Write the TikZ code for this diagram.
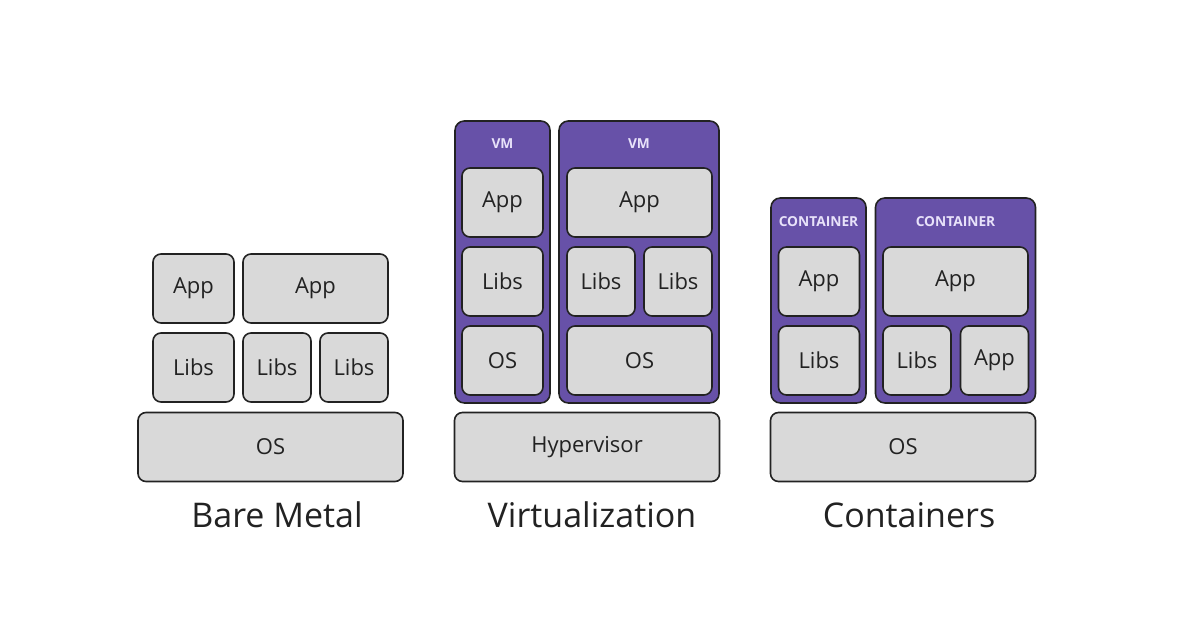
\documentclass[tikz,border=0pt]{standalone}
\usepackage{fontspec}
\setmainfont{Open Sans}
\usetikzlibrary{positioning}
\definecolor{Ink}{HTML}{222222}
\definecolor{Box}{HTML}{D9D9D9}
\definecolor{Purple}{HTML}{6751A8}
\definecolor{Lavender}{HTML}{E8E2FA}
\tikzset{
    layer/.style={rectangle, rounded corners=6pt, draw=Ink, line width=1.2pt, fill=Box, text=Ink, font=\fontsize{16.5}{19}\selectfont, minimum height=51.75pt, inner sep=0pt},
    narrow/.style={layer, minimum width=51pt},
    single/.style={layer, minimum width=60.75pt},
    wide/.style={layer, minimum width=108.75pt},
    base/.style={layer, minimum width=198.75pt},
    shell/.style={rectangle, rounded corners=7pt, draw=Ink, line width=1.2pt, fill=Purple, inner sep=0pt},
    tag/.style={text=Lavender, font=\bfseries\fontsize{10.3}{12}\selectfont},
    caption/.style={text=Ink, font=\fontsize{25.5}{30}\selectfont},
}
\begin{document}
\begin{tikzpicture}[x=0.75pt, y=-0.75pt]
        % --- Canvas ---
        \useasboundingbox (0,0) rectangle (1200,630);

        % --- Bare Metal ---
        \node[single] (bmapp)   at (193.5, 288.5) {App};
        \node[wide]   (bmappw)  at (315.5, 288.5) {App};
        \node[single] (bmlibs)  at (193.5, 367.5) {Libs};
        \node[narrow] (bmlibsb) at (277, 367.5)   {Libs};
        \node[narrow] (bmlibsc) at (354, 367.5)   {Libs};
        \node[base]   (bmos)    at (270.5, 447)   {OS};
        \node[caption] (bmcap)  at (277, 515)     {Bare Metal};

        % --- Virtualization ---
        \node[shell, minimum width=71.25pt, minimum height=211.5pt] (vma) at (502.5, 262) {};
        \node[shell, minimum width=120pt, minimum height=211.5pt]   (vmb) at (639, 262) {};
        \node[tag] (vmatag) at (502.5, 144) {VM};
        \node[tag] (vmbtag) at (639, 144)   {VM};

        \node[single] (vmaapp)   at (502.5, 202.5) {App};
        \node[single] (vmalibs)  at (502.5, 281.5) {Libs};
        \node[single] (vmaos)    at (502.5, 360.5) {OS};
        \node[wide]   (vmbapp)   at (639.5, 202.5) {App};
        \node[narrow] (vmblibs)  at (601, 281.5)   {Libs};
        \node[narrow] (vmblibsb) at (678, 281.5)   {Libs};
        \node[wide]   (vmbos)    at (639.5, 360.5) {OS};
        \node[base]   (hyper)    at (587, 447)     {Hypervisor};
        \node[caption] (vmcap)   at (592, 515)     {Virtualization};

        % --- Containers ---
        \node[shell, minimum width=71.25pt, minimum height=153.75pt] (cta) at (818.5, 300.5) {};
        \node[shell, minimum width=120pt, minimum height=153.75pt]   (ctb) at (955.5, 300.5) {};
        \node[tag] (ctatag) at (818.5, 222) {CONTAINER};
        \node[tag] (ctbtag) at (955.5, 222) {CONTAINER};

        \node[single] (ctaapp)  at (819, 281.5)   {App};
        \node[single] (ctalibs) at (819, 360.5)   {Libs};
        \node[wide]   (ctbapp)  at (955.5, 281.5) {App};
        \node[narrow] (ctblibs) at (917, 360.5)   {Libs};
        \node[narrow] (ctbappb) at (994.5, 360.5) {App};
        \node[base]   (ctos)    at (903, 447)     {OS};
        \node[caption] (ctcap)  at (909, 515)     {Containers};
    \end{tikzpicture}
\end{document}
